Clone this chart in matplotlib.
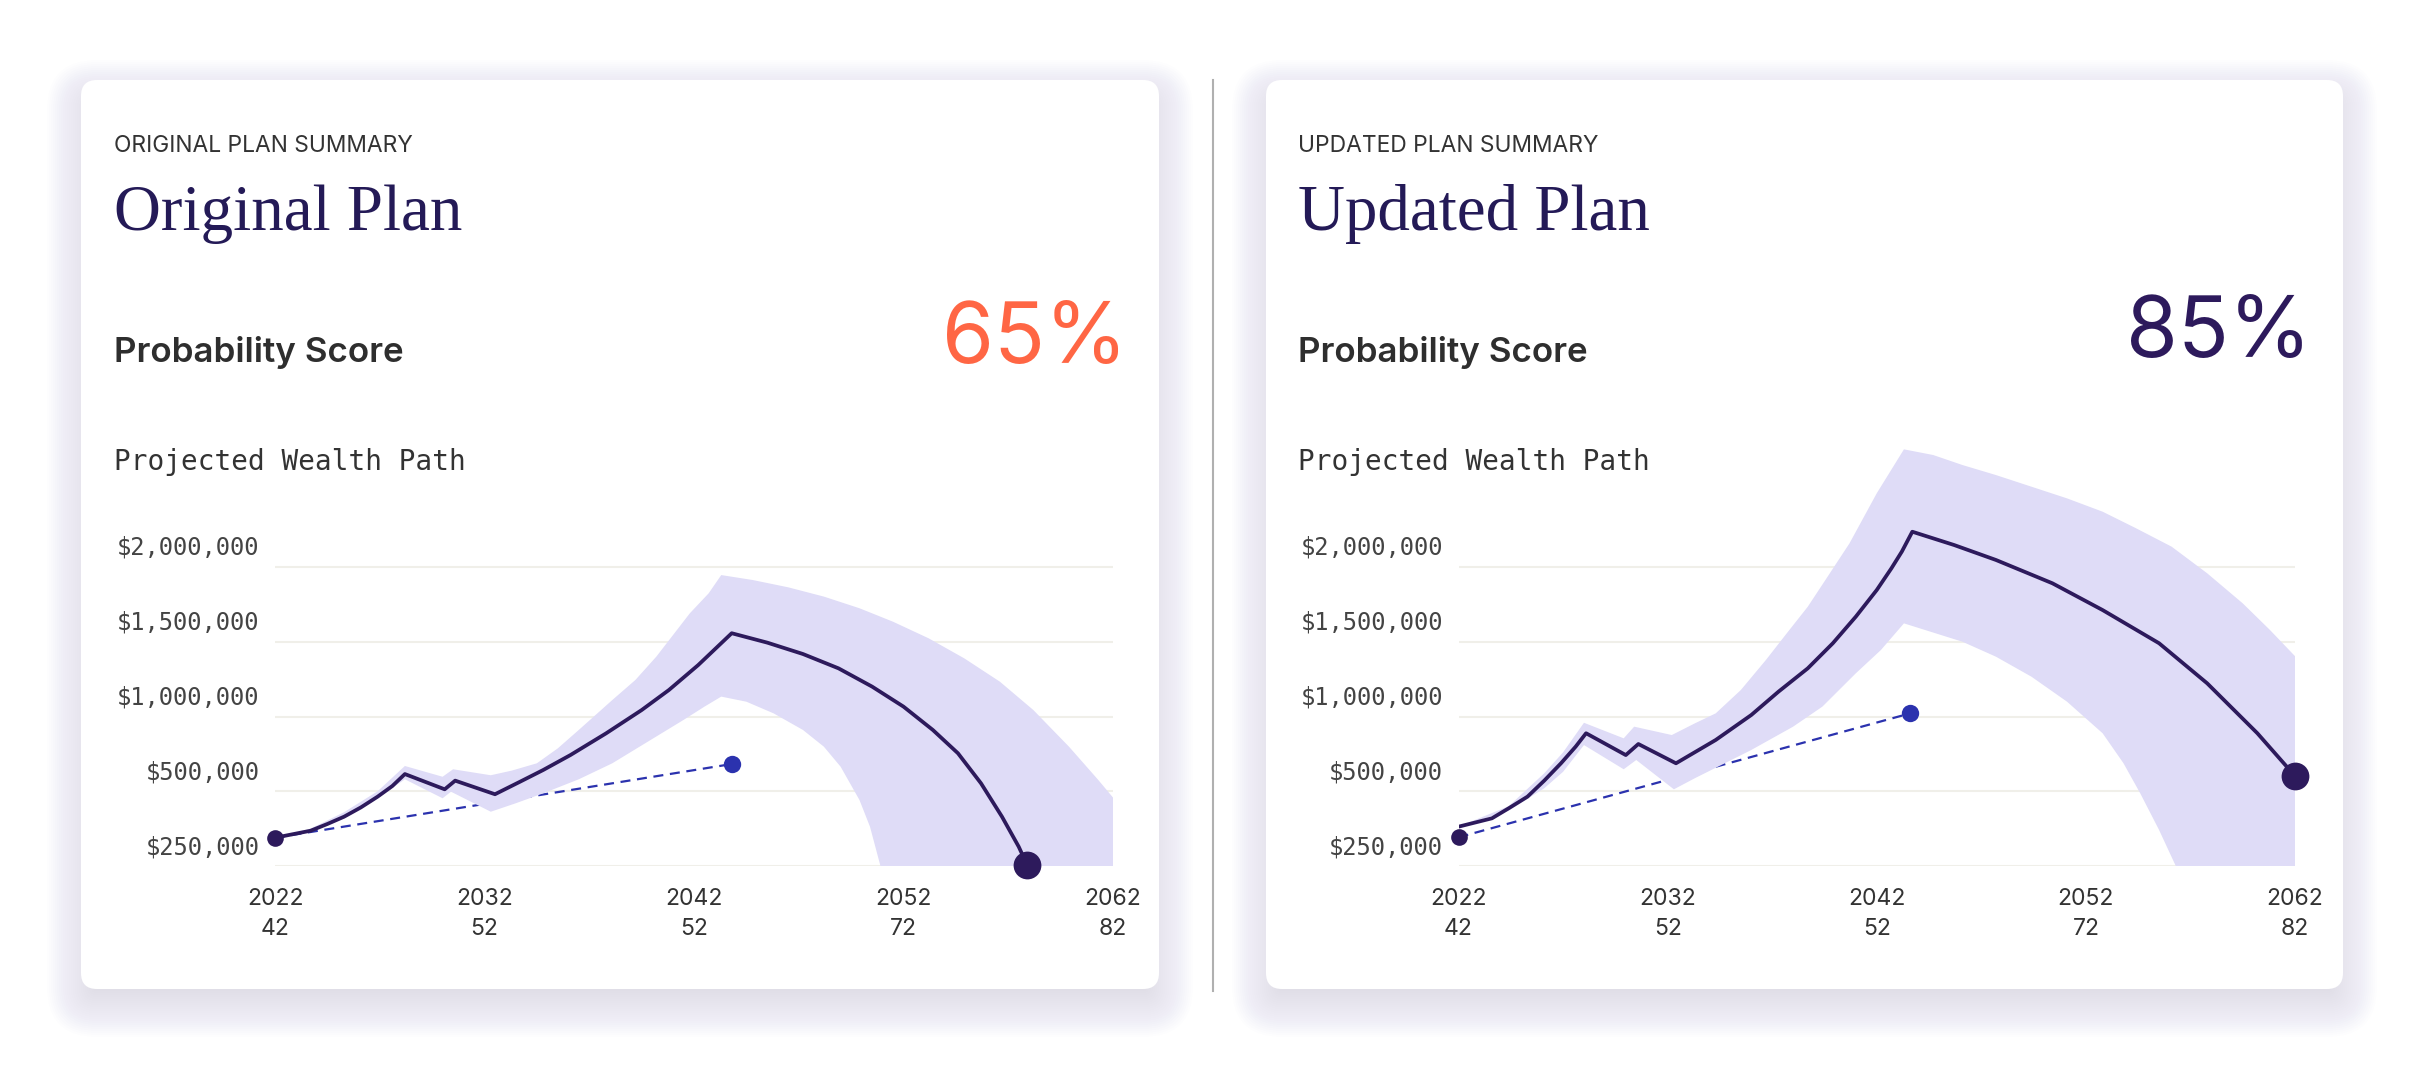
import numpy as np
import matplotlib
matplotlib.use("Agg")
import matplotlib.pyplot as plt
from matplotlib.patches import FancyBboxPatch
from matplotlib.transforms import ScaledTranslation, blended_transform_factory

W, H, DPI = 2424, 1072, 100

# ---------------- data ----------------
tick_years = [2022, 2032, 2042, 2052, 2062]
x_tick_labels = ["2022\n42", "2032\n52", "2042\n52", "2052\n72", "2062\n82"]
grid_values = [0, 500000, 1000000, 1500000, 2000000]
y_tick_labels = ["$250,000", "$500,000", "$1,000,000", "$1,500,000", "$2,000,000"]

kickers = ["ORIGINAL PLAN SUMMARY", "UPDATED PLAN SUMMARY"]
titles = ["Original Plan", "Updated Plan"]
score_label = "Probability Score"
scores = ["65%", "85%"]
chart_title = "Projected Wealth Path"

# Original plan (values in $)
orig_line_years = [2022.0, 2022.9, 2023.7, 2024.5, 2025.3, 2026.1, 2026.9, 2027.6, 2028.2,
                   2030.1, 2030.6, 2032.5, 2033.7, 2034.8, 2036.1, 2037.8, 2039.5, 2040.8,
                   2042.2, 2043.8, 2045.5, 2047.2, 2048.9, 2050.5, 2052.0, 2053.4, 2054.6,
                   2055.7, 2056.7, 2057.5, 2057.9]
orig_line_values = [189000, 214000, 236000, 281000, 330000, 392000, 464000, 535000, 615000,
                    513000, 571000, 480000, 564000, 642000, 742000, 887000, 1043000, 1177000,
                    1344000, 1557000, 1494000, 1418000, 1322000, 1200000, 1066000, 910000,
                    754000, 553000, 330000, 129000, 7000]
orig_upper_years = [2022.0, 2023.7, 2025.3, 2026.9, 2028.2, 2030.0, 2030.5, 2032.3, 2033.3,
                    2034.5, 2035.5, 2036.5, 2038.1, 2039.2, 2040.2, 2041.8, 2042.7, 2043.3,
                    2044.8, 2046.5, 2048.2, 2049.9, 2051.5, 2053.2, 2054.9, 2056.6, 2058.2,
                    2059.9, 2061.3, 2062.1]
orig_upper_values = [189000, 250000, 360000, 500000, 669000, 597000, 647000, 607000, 638000,
                     687000, 787000, 910000, 1110000, 1244000, 1400000, 1690000, 1824000,
                     1946000, 1913000, 1864000, 1802000, 1724000, 1634000, 1523000, 1389000,
                     1233000, 1043000, 798000, 575000, 441000]
orig_lower_years = [2022.0, 2023.7, 2025.3, 2026.9, 2028.2, 2030.0, 2030.4, 2032.3, 2033.5,
                    2034.8, 2036.5, 2038.1, 2039.8, 2041.5, 2042.5, 2043.3, 2044.5, 2045.8,
                    2047.2, 2048.2, 2049.0, 2049.9, 2050.4, 2050.9, 2062.1]
orig_lower_values = [189000, 228000, 318000, 452000, 580000, 453000, 497000, 363000, 420000,
                     486000, 580000, 687000, 832000, 977000, 1066000, 1133000, 1099000,
                     1021000, 910000, 798000, 664000, 441000, 263000, 0, 0]
orig_target_years = [2022.0, 2043.8]
orig_target_values = [189000, 682000]

# Updated plan (values in $)
upd_line_years = [2022.0, 2023.6, 2024.4, 2025.3, 2026.1, 2026.9, 2027.6, 2028.1, 2030.0,
                  2030.6, 2032.4, 2034.3, 2036.0, 2037.3, 2038.7, 2039.9, 2041.0, 2042.0,
                  2042.7, 2043.2, 2043.7, 2045.7, 2047.7, 2050.4, 2052.8, 2055.5, 2057.8,
                  2060.2, 2062.0]
upd_line_values = [263000, 319000, 386000, 464000, 571000, 687000, 798000, 888000, 742000,
                   816000, 687000, 843000, 1010000, 1166000, 1322000, 1490000, 1668000,
                   1846000, 1991000, 2103000, 2236000, 2147000, 2047000, 1891000, 1712000,
                   1490000, 1222000, 888000, 602000]
upd_upper_years = [2022.0, 2024.4, 2026.1, 2027.0, 2028.0, 2029.9, 2030.4, 2032.2, 2033.3,
                   2034.3, 2035.5, 2036.7, 2037.7, 2038.7, 2039.7, 2040.7, 2042.0, 2043.3,
                   2044.7, 2046.1, 2047.7, 2049.4, 2051.1, 2052.8, 2054.4, 2056.1, 2057.8,
                   2059.5, 2060.8, 2062.1]
upd_upper_values = [263000, 400000, 620000, 760000, 958000, 854000, 932000, 876000, 954000,
                    1021000, 1177000, 1378000, 1557000, 1734000, 1946000, 2159000, 2493000,
                    2787000, 2749000, 2682000, 2615000, 2537000, 2459000, 2370000, 2259000,
                    2136000, 1958000, 1757000, 1579000, 1389000]
upd_lower_years = [2022.0, 2024.4, 2026.1, 2027.0, 2028.0, 2029.9, 2030.5, 2032.3, 2033.3,
                   2034.5, 2036.0, 2038.0, 2039.4, 2041.0, 2042.2, 2043.3, 2046.1, 2047.7,
                   2049.4, 2051.1, 2052.8, 2053.8, 2054.6, 2055.5, 2056.3, 2062.1]
upd_lower_values = [263000, 370000, 520000, 630000, 809000, 647000, 709000, 513000, 587000,
                    671000, 776000, 932000, 1066000, 1289000, 1445000, 1623000, 1500000,
                    1400000, 1266000, 1099000, 888000, 687000, 486000, 241000, 0, 0]
upd_target_years = [2022.0, 2043.6]
upd_target_values = [192000, 1021000]

panels = [
    dict(line=(orig_line_years, orig_line_values), up=(orig_upper_years, orig_upper_values),
         lo=(orig_lower_years, orig_lower_values), tgt=(orig_target_years, orig_target_values),
         start=(orig_target_years[0], orig_target_values[0]),
         end=(orig_line_years[-1], orig_line_values[-1])),
    dict(line=(upd_line_years, upd_line_values), up=(upd_upper_years, upd_upper_values),
         lo=(upd_lower_years, upd_lower_values), tgt=(upd_target_years, upd_target_values),
         start=(upd_target_years[0], upd_target_values[0]),
         end=(upd_line_years[-1], upd_line_values[-1])),
]

# ---------------- style ----------------
SANS = ["Inter", "DejaVu Sans"]
MONO = ["DejaVu Sans Mono"]
SERIF = ["Liberation Serif", "DejaVu Serif"]
C_LINE = "#2d1a5c"
C_BAND = "#dfdcf7"
C_BLUE = "#2b32ae"
C_GRID = "#f0efe9"
C_TEXT = "#333333"
C_TITLE = "#241a57"
score_colors = ["#ff6644", "#2d1a5c"]

def pt(px):
    return px * 72.0 / DPI

fig = plt.figure(figsize=(W / DPI, H / DPI), dpi=DPI)
fig.patch.set_facecolor("white")
bg = fig.add_axes([0, 0, 1, 1])
bg.set_xlim(0, W)
bg.set_ylim(H, 0)
bg.axis("off")

cards = [(81, 80, 1159, 989), (1266, 80, 2343, 989)]
for (x0, y0, x1, y1) in cards:
    for e in range(34, -26, -2):
        r = max(16 + e, 4)
        bg.add_patch(FancyBboxPatch((x0 - e, y0 - e + 14), (x1 - x0) + 2 * e, (y1 - y0) + 2 * e,
                                    boxstyle=f"round,pad=0,rounding_size={r}",
                                    fc=(0.45, 0.43, 0.62), ec="none", alpha=0.009, zorder=1))
    bg.add_patch(FancyBboxPatch((x0, y0), x1 - x0, y1 - y0,
                                boxstyle="round,pad=0,rounding_size=16",
                                fc="white", ec="none", zorder=2))

bg.plot([1213, 1213], [80, 991], color="#b0b0b0", lw=1.5, zorder=3)

text_x = [113.7, 1297.5]
score_right = [1127, 2311]
score_base = [363, 357.5]
for k in range(2):
    bg.text(text_x[k], 151.7, kickers[k], fontsize=pt(22.8), family=SANS, color=C_TEXT,
            ha="left", va="baseline", zorder=5)
    bg.text(text_x[k], 230, titles[k], fontsize=pt(65), family=SERIF, color=C_TITLE,
            ha="left", va="baseline", zorder=5)
    bg.text(text_x[k], 361.7, score_label, fontsize=pt(35), family=SANS, weight="semibold",
            color="#2e2e2e", ha="left", va="baseline", zorder=5)
    bg.text(score_right[k], score_base[k], scores[k], fontsize=pt(84), family=SANS,
            weight="normal", color=score_colors[k], ha="right", va="baseline", zorder=5)
    bg.text(text_x[k], 470, chart_title, fontsize=pt(27.8), family=MONO, color=C_TEXT,
            ha="left", va="baseline", zorder=5)

# ---------------- charts ----------------
axes_x = [(275, 1113), (1458.5, 2295)]
y_zero_px = 866
px_per_dollar = 149.5 / 1e6
y_top_val = 2.903e6
for k, p in enumerate(panels):
    x0, x1 = axes_x[k]
    h_px = y_top_val * px_per_dollar
    ax = fig.add_axes([x0 / W, (H - y_zero_px) / H, (x1 - x0) / W, h_px / H])
    ax.set_zorder(10)
    ax.patch.set_alpha(0)
    ax.set_xlim(2022, 2062)
    ax.set_ylim(0, y_top_val)
    for s in ax.spines.values():
        s.set_visible(False)
    for v in grid_values:
        ax.axhline(v, color=C_GRID, lw=1.5, zorder=1)
    tx, ty = p["tgt"]
    ax.plot(tx, ty, color=C_BLUE, lw=1.6, dashes=(4.5, 3), zorder=2)
    ux, uy = p["up"]
    lx, ly = p["lo"]
    ax.fill(list(ux) + list(lx)[::-1], list(uy) + list(ly)[::-1], color=C_BAND, lw=0, zorder=3)
    ax.plot(tx[-1], ty[-1], "o", color=C_BLUE, ms=12.5, mew=0, zorder=6, clip_on=False)
    lx_, ly_ = p["line"]
    ax.plot(lx_, ly_, color=C_LINE, lw=2.7, solid_joinstyle="round", solid_capstyle="butt",
            zorder=4)
    ax.plot(*p["start"], "o", color=C_LINE, ms=12, mew=0, zorder=6, clip_on=False)
    ax.plot(*p["end"], "o", color=C_LINE, ms=20, mew=0, zorder=6, clip_on=False)

    ax.set_xticks(tick_years)
    ax.set_xticklabels(x_tick_labels, fontsize=pt(23), family=SANS, color=C_TEXT,
                       linespacing=1.45)
    ax.tick_params(axis="x", length=0, pad=16)
    ax.set_yticks([])
    trans = blended_transform_factory(ax.transAxes, ax.transData) + \
        ScaledTranslation(-15.4 / DPI, 19 / DPI, fig.dpi_scale_trans)
    for v, lab in zip(grid_values, y_tick_labels):
        ax.text(0, v, lab, transform=trans, ha="right", va="center", fontsize=pt(23.8),
                family=MONO, color="#444444")

fig.savefig("out.png", dpi=DPI, facecolor="white")
